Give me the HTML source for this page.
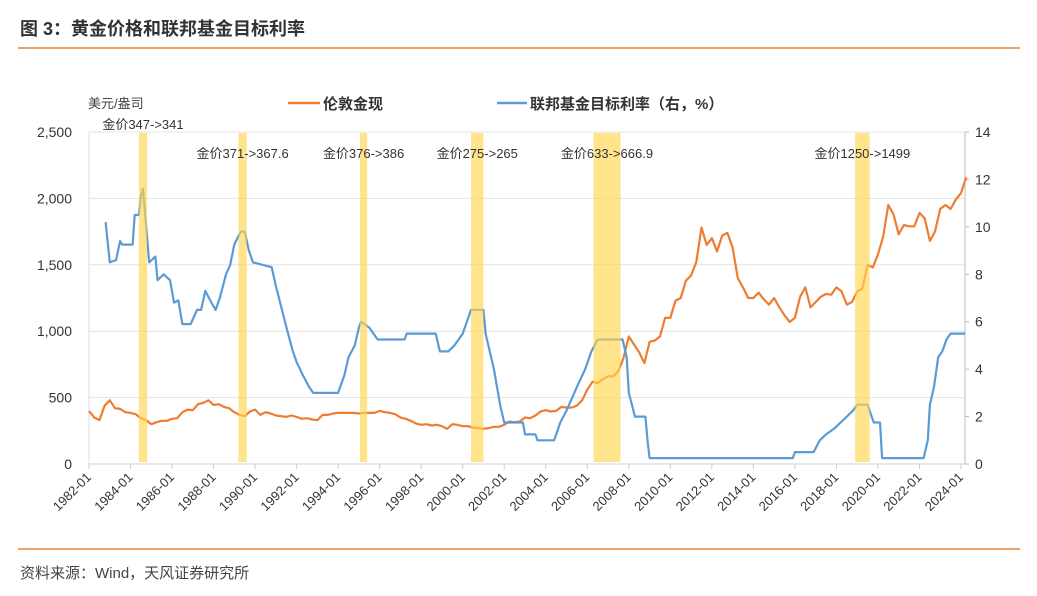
<!DOCTYPE html>
<html><head><meta charset="utf-8"><style>
body{margin:0;background:#fff;}
svg text{font-family:"Liberation Sans","Noto Sans CJK SC",sans-serif;}
</style></head><body>
<svg width="1037" height="591" viewBox="0 0 1037 591" xmlns="http://www.w3.org/2000/svg">
<text x="20" y="35" font-size="18" font-weight="bold" fill="#333">图 3：黄金价格和联邦基金目标利率</text>
<line x1="18" y1="48" x2="1020" y2="48" stroke="#e8822e" stroke-width="1.5"/>
<line x1="18" y1="549" x2="1020" y2="549" stroke="#e8822e" stroke-width="1.5"/>
<text x="20" y="578" font-size="15" fill="#444">资料来源：Wind，天风证券研究所</text>
<text x="88" y="108" font-size="13" fill="#444">美元/盎司</text>
<line x1="288" y1="103" x2="320" y2="103" stroke="#ed7d31" stroke-width="2.5"/>
<text x="323" y="109" font-size="15" font-weight="bold" fill="#333">伦敦金现</text>
<line x1="497" y1="103" x2="527" y2="103" stroke="#5b9bd5" stroke-width="2.5"/>
<text x="530" y="109" font-size="15" font-weight="bold" fill="#333">联邦基金目标利率（右，%）</text>
<g id="plot"></g>
</svg>
<script>
const goldStart = 1982.0;
const goldStep = 0.25;
const goldValues = [400,350,330,440, 480,420,415,390, 385,375,345,330, 300,315,325,325, 340,345,390,410, 405,450,460,480, 445,450,430,420, 390,370,360,395, 410,370,390,380, 365,360,355,365, 355,340,345,335, 330,370,370,380, 385,385,385,385, 380,385,385,385, 400,390,385,375, 350,340,325,305, 295,300,290,295, 285,265,300,295, 285,285,275,270, 265,270,280,280, 295,320,315,320, 350,345,365,395, 405,395,400,430, 425,425,440,480, 560,620,610,640, 660,660,700,800, 960,900,840,760, 920,930,960,1100, 1100,1230,1250,1380, 1420,1520,1780,1650, 1700,1600,1720,1740, 1630,1400,1330,1250, 1250,1290,1240,1200, 1250,1180,1120,1070, 1100,1260,1330,1180, 1220,1260,1280,1275, 1330,1300,1200,1220, 1300,1320,1500,1480, 1580,1710,1950,1880, 1730,1800,1790,1790, 1890,1850,1680,1750, 1920,1950,1920,1990, 2040,2160];
const rateDates = [1982.8,1983.0,1983.3,1983.5,1983.6,1984.1,1984.2,1984.4,1984.5,1984.6,1984.9,1985.2,1985.3,1985.6,1985.9,1986.1,1986.3,1986.5,1986.9,1987.2,1987.4,1987.6,1987.9,1988.1,1988.3,1988.6,1988.8,1989.0,1989.3,1989.5,1989.7,1989.9,1990.8,1991.0,1991.5,1991.8,1992.0,1992.3,1992.6,1992.8,1994.0,1994.3,1994.5,1994.8,1995.0,1995.1,1995.5,1995.9,1997.2,1997.3,1998.7,1998.9,1999.3,1999.6,1999.8,2000.0,2000.2,2000.4,2001.0,2001.1,2001.5,2001.8,2002.0,2002.9,2003.0,2003.5,2003.6,2004.4,2004.7,2005.0,2005.5,2005.9,2006.2,2006.5,2007.7,2007.9,2008.0,2008.3,2008.8,2008.9,2009.0,2015.9,2016.0,2016.9,2017.2,2017.5,2017.9,2018.2,2018.5,2018.8,2019.0,2019.5,2019.7,2019.8,2020.1,2020.2,2022.2,2022.4,2022.5,2022.7,2022.9,2023.1,2023.3,2023.5,2024.2];
const rateValues = [10.2,8.5,8.6,9.4,9.25,9.25,10.5,10.5,11.3,11.6,8.5,8.75,7.75,8.0,7.75,6.8,6.9,5.9,5.9,6.5,6.5,7.3,6.8,6.5,7.0,8.0,8.4,9.25,9.8,9.8,9.0,8.5,8.3,7.5,5.8,4.8,4.3,3.75,3.25,3.0,3.0,3.75,4.5,5.0,5.75,6.0,5.75,5.25,5.25,5.5,5.5,4.75,4.75,5.0,5.25,5.5,6.0,6.5,6.5,5.5,4.0,2.5,1.75,1.75,1.25,1.25,1.0,1.0,1.75,2.25,3.25,4.0,4.75,5.25,5.25,4.5,3.0,2.0,2.0,1.0,0.25,0.25,0.5,0.5,1.0,1.25,1.5,1.75,2.0,2.25,2.5,2.5,2.0,1.75,1.75,0.25,0.25,1.0,2.5,3.25,4.5,4.75,5.25,5.5,5.5];
const bandStarts = [1984.4,1989.2,1995.05,2000.4,2006.3,2018.9];
const bandEnds = [1984.8,1989.6,1995.4,2001.0,2007.6,2019.6];
const bandLabels = ["金价347->341","金价371->367.6","金价376->386","金价275->265","金价633->666.9","金价1250->1499"];
const bandLabelRaise = [1,0,0,0,0,0];
const leftTicks = [0,500,1000,1500,2000,2500];
const leftTickLabels = ["0","500","1,000","1,500","2,000","2,500"];
const rightTicks = [0,2,4,6,8,10,12,14];
const xTickYears = [1982,1984,1986,1988,1990,1992,1994,1996,1998,2000,2002,2004,2006,2008,2010,2012,2014,2016,2018,2020,2022,2024];

const X0=89, X1=961, Y0=464, YT=132, XR=965;
const xs = t => X0 + (t-1982)*(X1-X0)/42;
const yl = v => Y0 - v*(Y0-YT)/2500;
const yr = v => Y0 - v*(Y0-YT)/14;
const NS="http://www.w3.org/2000/svg";
const g=document.getElementById('plot');
function mk(tag,attrs,parent){const e=document.createElementNS(NS,tag);for(const k in attrs)e.setAttribute(k,attrs[k]);(parent||g).appendChild(e);return e;}

leftTicks.forEach((v,i)=>{
  const l=mk('line',{x1:X0,x2:XR,y1:yl(v),y2:yl(v),stroke:'#e3e3e3','stroke-width':1});
  
  
  const t=mk('text',{x:72,y:yl(v)+5,'text-anchor':'end','font-size':14,fill:'#333'});
  t.textContent=leftTickLabels[i];
  
  
});
rightTicks.forEach(v=>{
  const t=mk('text',{x:975,y:yr(v)+5,'font-size':14,fill:'#333'});
  t.textContent=String(v);
  
  
  const k=mk('line',{x1:XR,x2:XR+4,y1:yr(v),y2:yr(v),stroke:'#bbb'});
  
  
});
let ax=mk('line',{x1:X0,x2:X0,y1:YT,y2:Y0,stroke:'#ddd'});


ax=mk('line',{x1:XR,x2:XR,y1:YT,y2:Y0,stroke:'#bbb'});


ax=mk('line',{x1:X0,x2:XR,y1:Y0,y2:Y0,stroke:'#d0d0d0'});


xTickYears.forEach(y=>{
  const x=xs(y);
  const k=mk('line',{x1:x,x2:x,y1:Y0,y2:Y0+5,stroke:'#ccc'});
  
  
  const t=mk('text',{x:x+3,y:Y0+14,'text-anchor':'end','font-size':13,fill:'#333',transform:`rotate(-45 ${x+3} ${Y0+14})`});
  t.textContent=y+'-01';
  
  
});
let d='';
goldValues.forEach((v,i)=>{d+=(i?'L':'M')+xs(goldStart+i*goldStep).toFixed(1)+','+yl(v).toFixed(1);});
const gl=mk('path',{d:d,fill:'none',stroke:'#ed7d31','stroke-width':2.2,'stroke-linejoin':'round'});


d='';
rateValues.forEach((v,i)=>{d+=(i?'L':'M')+xs(rateDates[i]).toFixed(1)+','+yr(v).toFixed(1);});
const rl=mk('path',{d:d,fill:'none',stroke:'#5b9bd5','stroke-width':2.2,'stroke-linejoin':'round'});


bandStarts.forEach((s,i)=>{
  const r=mk('rect',{x:xs(s),y:YT+1,width:xs(bandEnds[i])-xs(s),height:Y0-YT-3,fill:'#ffd54f','fill-opacity':0.65});
  
  
  const cx=(xs(s)+xs(bandEnds[i]))/2;
  const t=mk('text',{x:cx,y:bandLabelRaise[i]?129:158,'text-anchor':'middle','font-size':13,fill:'#333'});
  t.textContent=bandLabels[i];
  
  
});
</script>
</body></html>
